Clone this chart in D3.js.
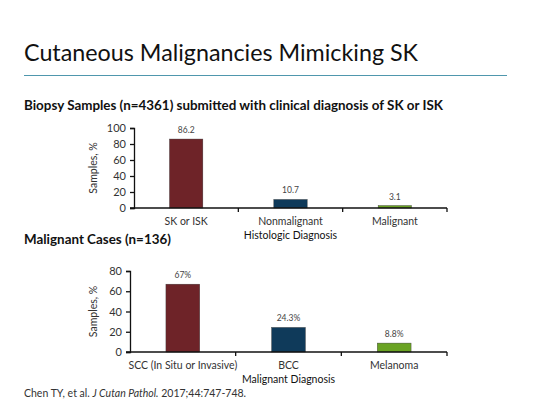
<!DOCTYPE html>
<html>
<head>
  <meta charset="utf-8">
  <title>Cutaneous Malignancies Mimicking SK</title>
  <script src="https://d3js.org/d3.v7.min.js"></script>
  <style>
    body { margin: 0; background: #fff; }
    svg { font-family: Lato, "Open Sans", sans-serif; }
  </style>
</head>
<body>
<svg width="540" height="405"></svg>
<script>

  // Top chart: biopsy samples by histologic diagnosis
  var histoCategories = ["SK or ISK", "Nonmalignant", "Malignant"];
  var histoValues = [86.2, 10.7, 3.1];
  var histoLabels = ["86.2", "10.7", "3.1"];
  var histoTicks = [0, 20, 40, 60, 80, 100];

  // Bottom chart: malignant cases by diagnosis
  var maligCategories = ["SCC (In Situ or Invasive)", "BCC", "Melanoma"];
  var maligValues = [67, 24.3, 8.8];
  var maligLabels = ["67%", "24.3%", "8.8%"];
  var maligTicks = [0, 20, 40, 60, 80];

  var barColors = ["#6e2328", "#0f3a5a", "#6aa323"];

  var svg = d3.select("svg");

  // Slide title and rule
  svg.append("text")
      .attr("x", 24).attr("y", 61)
      .style("font-size", "23.3px")
      .style("fill", "#111")
      .text("Cutaneous Malignancies Mimicking SK");

  svg.append("line")
      .attr("x1", 24).attr("x2", 507)
      .attr("y1", 75.5).attr("y2", 75.5)
      .style("stroke", "#4f97ad")
      .style("stroke-width", 1.2);

  // Draw one bar chart panel
  function barChart(opts) {
    var x = d3.scaleBand()
        .domain(opts.categories)
        .range([opts.left, opts.right])
        .paddingInner(0.68)
        .paddingOuter(0.34);

    var y = d3.scaleLinear()
        .domain([0, opts.max])
        .range([opts.bottom, opts.top]);

    var g = svg.append("g");

    // section heading
    g.append("text")
        .attr("x", 24).attr("y", opts.headY)
        .style("font-size", "13.4px")
        .style("font-weight", "bold")
        .style("fill", "#111")
        .text(opts.heading);

    // bars
    g.selectAll("rect.bar")
        .data(opts.values)
      .enter().append("rect")
        .attr("class", "bar")
        .attr("x", function(d, i) { return x(opts.categories[i]); })
        .attr("width", x.bandwidth())
        .attr("y", function(d) { return y(d); })
        .attr("height", function(d) { return opts.bottom - y(d); })
        .style("fill", function(d, i) { return barColors[i]; })
        .style("stroke", "#3a3a3a")
        .style("stroke-width", 0.4);

    // value labels
    g.selectAll("text.val")
        .data(opts.values)
      .enter().append("text")
        .attr("class", "val")
        .attr("x", function(d, i) { return x(opts.categories[i]) + x.bandwidth() / 2; })
        .attr("y", function(d) { return y(d) - 6; })
        .attr("text-anchor", "middle")
        .style("font-size", "8.5px")
        .style("fill", "#444")
        .text(function(d, i) { return opts.labels[i]; });

    // y axis
    var yAxis = g.append("g")
        .attr("transform", "translate(" + opts.left + ",0)")
        .call(d3.axisLeft(y).tickValues(opts.ticks).tickSize(4).tickPadding(4));
    yAxis.selectAll("text").style("font-size", "11px").style("fill", "#333")
        .style("font-family", "Lato, 'Open Sans', sans-serif");
    yAxis.selectAll("line, path").style("stroke", "#111").style("stroke-width", 1.3);

    // x axis with ticks on category boundaries
    var step = x.step();
    var bounds = d3.range(opts.categories.length + 1).map(function(i) { return opts.left + i * step; });
    g.append("line")
        .attr("x1", opts.left - 4).attr("x2", opts.right)
        .attr("y1", opts.bottom).attr("y2", opts.bottom)
        .style("stroke", "#111").style("stroke-width", 1.3);
    g.selectAll("line.xt")
        .data(bounds.slice(1))
      .enter().append("line")
        .attr("class", "xt")
        .attr("x1", function(d) { return d; }).attr("x2", function(d) { return d; })
        .attr("y1", opts.bottom).attr("y2", opts.bottom + 4)
        .style("stroke", "#111").style("stroke-width", 1.3);

    g.selectAll("text.cat")
        .data(opts.categories)
      .enter().append("text")
        .attr("class", "cat")
        .attr("x", function(d) { return x(d) + x.bandwidth() / 2; })
        .attr("y", opts.bottom + 17)
        .attr("text-anchor", "middle")
        .style("font-size", "10.5px")
        .style("fill", "#333")
        .text(function(d) { return d; });

    // axis titles
    g.append("text")
        .attr("x", (opts.left + opts.right) / 2)
        .attr("y", opts.bottom + 31)
        .attr("text-anchor", "middle")
        .style("font-size", "10.5px")
        .style("fill", "#111")
        .text(opts.xTitle);

    g.append("text")
        .attr("transform", "rotate(-90)")
        .attr("x", -(opts.top + opts.bottom) / 2)
        .attr("y", 97)
        .attr("text-anchor", "middle")
        .style("font-size", "10.5px")
        .style("fill", "#333")
        .text("Samples, %");
  }

  barChart({
    heading: "Biopsy Samples (n=4361) submitted with clinical diagnosis of SK or ISK",
    headY: 110,
    categories: histoCategories, values: histoValues, labels: histoLabels,
    ticks: histoTicks, max: 100,
    left: 134, right: 447, top: 128, bottom: 208,
    xTitle: "Histologic Diagnosis"
  });

  barChart({
    heading: "Malignant Cases (n=136)",
    headY: 244,
    categories: maligCategories, values: maligValues, labels: maligLabels,
    ticks: maligTicks, max: 80,
    left: 130, right: 447, top: 271, bottom: 352,
    xTitle: "Malignant Diagnosis"
  });

  // Source line
  var src = svg.append("text")
      .attr("x", 24).attr("y", 397)
      .style("font-size", "10.5px")
      .style("fill", "#333");
  src.append("tspan").text("Chen TY, et al. ");
  src.append("tspan").style("font-style", "italic").text("J Cutan Pathol.");
  src.append("tspan").text(" 2017;44:747-748.");

</script>
</body>
</html>
